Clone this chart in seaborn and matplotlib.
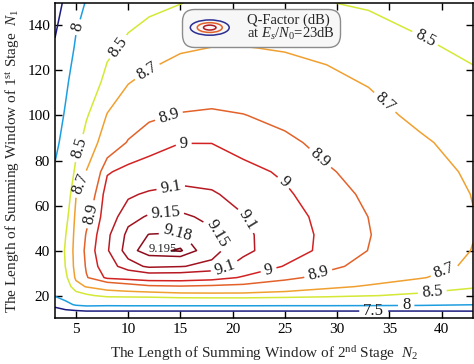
import numpy as np
import matplotlib
matplotlib.use('Agg')
import matplotlib.pyplot as plt
import seaborn as sns
from matplotlib.offsetbox import AnchoredOffsetbox, DrawingArea, TextArea, HPacker
from matplotlib.patches import Ellipse

# grid: rows are N1, one list per N2 column
n1_values = [10, 13, 16, 20, 24, 28, 33, 40, 47, 55, 65, 75, 88, 100, 115, 130, 150]
n2_values = [3, 4, 5, 6, 8, 10, 12, 15, 18, 21, 25, 29, 33, 38, 43]

q_n2_03 = [6.95, 7.30, 7.63, 8.03, 8.14, 8.20, 8.24, 8.26, 8.25, 8.20, 8.12, 8.04, 7.92, 7.81, 7.67, 7.54, 7.36]
q_n2_04 = [6.90, 7.38, 7.85, 8.20, 8.35, 8.45, 8.505, 8.525, 8.49, 8.42, 8.32, 8.22, 8.12, 8.04, 7.93, 7.77, 7.56]
q_n2_05 = [6.85, 7.42, 8.06, 8.38, 8.635, 8.73, 8.76, 8.77, 8.76, 8.74, 8.69, 8.56, 8.42, 8.30, 8.17, 8.05, 7.88]
q_n2_06 = [6.80, 7.47, 8.13, 8.46, 8.71, 8.89, 8.915, 8.935, 8.91, 8.86, 8.79, 8.705, 8.58, 8.48, 8.33, 8.20, 8.02]
q_n2_08 = [6.80, 7.47, 8.10, 8.56, 8.79, 9.02, 9.07, 9.095, 9.09, 9.065, 9.05, 8.99, 8.80, 8.71, 8.57, 8.45, 8.28]
q_n2_10 = [6.80, 7.47, 8.11, 8.57, 8.84, 9.04, 9.13, 9.172, 9.162, 9.135, 9.09, 9.03, 8.91, 8.82, 8.69, 8.55, 8.40]
q_n2_12 = [6.80, 7.47, 8.11, 8.58, 8.88, 9.06, 9.158, 9.19, 9.181, 9.155, 9.11, 9.045, 8.96, 8.88, 8.75, 8.61, 8.45]
q_n2_15 = [6.80, 7.47, 8.11, 8.62, 8.89, 9.06, 9.152, 9.197, 9.183, 9.158, 9.12, 9.07, 8.998, 8.91, 8.80, 8.68, 8.495]
q_n2_18 = [6.80, 7.47, 8.11, 8.63, 8.88, 9.04, 9.14, 9.164, 9.158, 9.14, 9.11, 9.06, 8.998, 8.92, 8.82, 8.703, 8.54]
q_n2_21 = [6.80, 7.47, 8.11, 8.63, 8.87, 8.99, 9.07, 9.12, 9.118, 9.105, 9.07, 9.03, 8.96, 8.905, 8.80, 8.705, 8.56]
q_n2_25 = [6.80, 7.47, 8.10, 8.60, 8.82, 8.93, 8.995, 9.048, 9.05, 9.04, 9.015, 8.985, 8.93, 8.86, 8.77, 8.69, 8.56]
q_n2_29 = [6.80, 7.47, 8.10, 8.56, 8.74, 8.86, 8.93, 8.975, 8.978, 8.97, 8.945, 8.915, 8.86, 8.80, 8.73, 8.67, 8.505]
q_n2_33 = [6.80, 7.47, 8.09, 8.51, 8.68, 8.79, 8.86, 8.898, 8.905, 8.899, 8.88, 8.85, 8.80, 8.75, 8.69, 8.60, 8.48]
q_n2_38 = [6.80, 7.47, 8.07, 8.46, 8.60, 8.71, 8.77, 8.80, 8.81, 8.805, 8.79, 8.765, 8.72, 8.665, 8.60, 8.53, 8.42]
q_n2_43 = [6.80, 7.48, 8.01, 8.35, 8.53, 8.62, 8.67, 8.695, 8.705, 8.705, 8.695, 8.675, 8.64, 8.60, 8.54, 8.46, 8.35]

contour_levels = [7.5, 8, 8.5, 8.7, 8.9, 9, 9.1, 9.15, 9.18]
level_colors = ['#1c1c80', '#1e9ee0', '#d4e835', '#f0a030', '#e2622a',
                '#d32222', '#b81a24', '#a0121f', '#8c0c1c']
peak_level = [9.195]
peak_color = '#780414'

# where the inline labels sit (N2, N1)
label_spots = [(33.5, 12.8), (36.6, 15.6), (4.9, 139.6),
               (39.1, 21.5), (9.2, 130), (38.5, 135), (5.2, 85.7),
               (40.3, 30.3), (11.8, 119.6), (34.8, 107.1), (5.5, 69.5),
               (28.2, 29.6), (13.9, 99.7), (28.7, 82.8), (6.3, 56.2),
               (23.5, 30.3), (15.3, 88.6), (25.0, 70.9),
               (19.2, 33.3), (14.0, 70.2), (21.6, 54.0),
               (18.5, 47.3), (13.55, 59.1),
               (14.7, 48.8)]

sns.set_theme(style='ticks')
plt.rcParams['font.family'] = ['Liberation Serif', 'DejaVu Serif']
plt.rcParams['mathtext.fontset'] = 'custom'
plt.rcParams['mathtext.rm'] = 'Liberation Serif'
plt.rcParams['mathtext.it'] = 'Liberation Serif:italic'
plt.rcParams['axes.edgecolor'] = 'black'
plt.rcParams['xtick.color'] = 'black'
plt.rcParams['ytick.color'] = 'black'

q_grid = np.column_stack([q_n2_03, q_n2_04, q_n2_05, q_n2_06, q_n2_08, q_n2_10, q_n2_12,
                          q_n2_15, q_n2_18, q_n2_21, q_n2_25, q_n2_29, q_n2_33, q_n2_38, q_n2_43])

fig = plt.figure(figsize=(4.74, 3.64), dpi=100)
ax = fig.add_axes([0.116, 0.126, 0.882, 0.866])

cs = ax.contour(n2_values, n1_values, q_grid, levels=contour_levels,
                colors=level_colors, linewidths=1.1)
ax.clabel(cs, fmt='%g', manual=label_spots, inline=True, inline_spacing=4,
          fontsize=12, colors='k')
ax.contour(n2_values, n1_values, q_grid, levels=peak_level,
           colors=[peak_color], linewidths=1.2)
ax.text(13.3, 40.8, '9.195', fontsize=9, ha='center', va='center')

ax.set_xlim(3, 43)
ax.set_ylim(10, 150)
ax.set_xticks([5, 10, 15, 20, 25, 30, 35, 40])
ax.set_yticks([20, 40, 60, 80, 100, 120, 140])
ax.tick_params(direction='in', top=True, right=True, length=5, width=1, labelsize=11)
for sp in ax.spines.values():
    sp.set_linewidth(1.1)
ax.set_xlabel(r'The Length of Summing Window of 2$^{\mathrm{nd}}$ Stage  $N_2$', fontsize=11, labelpad=6)
ax.set_ylabel(r'The Length of Summing Window of 1$^{\mathrm{st}}$ Stage  $N_1$', fontsize=11, labelpad=4)

# legend box with the little ellipse icon
icon = DrawingArea(34, 14, 0, 0)
icon.add_artist(Ellipse((17, 7), 28, 11, fill=False, edgecolor='#2b2f90', lw=1.1))
icon.add_artist(Ellipse((17, 7), 18, 7, fill=False, edgecolor='#e2622a', lw=1.1))
icon.add_artist(Ellipse((17, 7), 9, 3.5, fill=False, edgecolor='#b01a24', lw=1.1))
txt = TextArea('Q-Factor (dB)\nat $E_s/N_0$=23dB', textprops=dict(fontsize=10.5, linespacing=0.95))
pack = HPacker(children=[icon, txt], align='center', pad=0, sep=10)
box = AnchoredOffsetbox(loc='upper center', child=pack, pad=0.15, frameon=True,
                        bbox_to_anchor=(0.492, 0.975), bbox_transform=ax.transAxes, borderpad=0)
box.patch.set_boxstyle('round,pad=0.15,rounding_size=0.8')
box.patch.set_edgecolor('#8c8c8c')
box.patch.set_facecolor('#f7f7f7')
box.patch.set_linewidth(1.0)
ax.add_artist(box)

fig.savefig('out.png', dpi=100)
